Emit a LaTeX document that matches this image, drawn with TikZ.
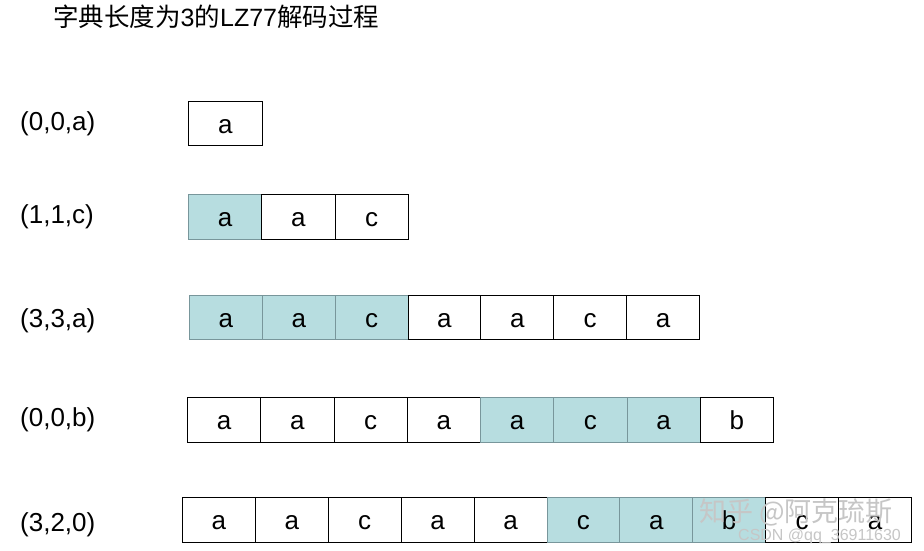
\documentclass[tikz,border=0pt]{standalone}
\usepackage{fontspec}
\setmainfont{Liberation Sans}
\newfontfamily\cjk{Noto Sans CJK SC}
\definecolor{shade}{RGB}{183,221,224}
\definecolor{shadeline}{RGB}{120,150,155}
\begin{document}
\begin{tikzpicture}[x=1pt,y=-1pt,
  lbl/.style={anchor=west,inner sep=0pt,font=\fontsize{26}{30}\selectfont},
  cell/.style={anchor=north west,inner sep=0pt,line width=0.9pt,
    font=\fontsize{26}{30}\selectfont,text height=20pt,text depth=0pt},
  wm/.style={inner sep=0pt,anchor=west}]
\useasboundingbox[fill=white] (0,0) rectangle (924,551);
\node[inner sep=0pt,anchor=west,font=\fontsize{25}{30}\selectfont] (title) at (53,17)
  {{\cjk\fontsize{25.5}{30}\selectfont 字典长度为}3{\cjk\fontsize{25.5}{30}\selectfont 的}LZ77{\cjk\fontsize{25.5}{30}\selectfont 解码过程}};
% labels
\node[lbl] (l1) at (20,124) {(0,0,a)};
\node[lbl] (l2) at (20,217) {(1,1,c)};
\node[lbl] (l3) at (20,321) {(3,3,a)};
\node[lbl] (l4) at (20,420) {(0,0,b)};
\node[lbl] (l5) at (20,525) {(3,2,0)};
% row 1
\foreach \t/\f/\d [count=\i from 0] in {a/white/black}
  \node[cell,minimum width=74pt,minimum height=44pt,fill=\f,draw=\d] (ra-\i) at (188+74*\i,101) {\t};
% row 2
\foreach \t/\f/\d [count=\i from 0] in {a/shade/shadeline,a/white/black,c/white/black}
  \node[cell,minimum width=73.3pt,minimum height=45pt,fill=\f,draw=\d] (rb-\i) at (188+73.3*\i,194) {\t};
% row 3
\foreach \t/\f/\d [count=\i from 0] in {a/shade/shadeline,a/shade/shadeline,c/shade/shadeline,a/white/black,a/white/black,c/white/black,a/white/black}
  \node[cell,minimum width=72.86pt,minimum height=44pt,fill=\f,draw=\d] (rc-\i) at (189+72.86*\i,295) {\t};
% row 4
\foreach \t/\f/\d [count=\i from 0] in {a/white/black,a/white/black,c/white/black,a/white/black,a/shade/shadeline,c/shade/shadeline,a/shade/shadeline,b/white/black}
  \node[cell,minimum width=73.25pt,minimum height=45pt,fill=\f,draw=\d] (rd-\i) at (187+73.25*\i,397) {\t};
% row 5
\foreach \t/\f/\d [count=\i from 0] in {a/white/black,a/white/black,c/white/black,a/white/black,a/white/black,c/shade/shadeline,a/shade/shadeline,b/shade/shadeline,c/white/black,a/white/black}
  \node[cell,minimum width=72.9pt,minimum height=45pt,fill=\f,draw=\d] (re-\i) at (182+72.9*\i,497) {\t};
% watermarks
\node[wm,text=gray!45,font=\cjk\fontsize{27}{30}\selectfont] (wm1) at (699,512) {知乎 @阿克琉斯};
\node[wm,text=gray!45,font=\fontsize{16}{18}\selectfont] (wm2) at (738,536) {CSDN @qq\_36911630};
\end{tikzpicture}
\end{document}
